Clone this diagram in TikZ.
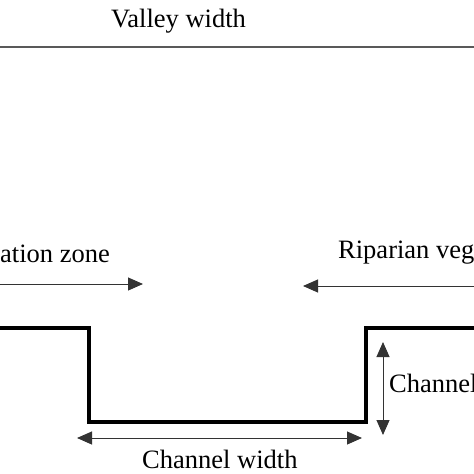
\documentclass[tikz,border=0pt]{standalone}
\usepackage{fontspec}
\setmainfont{Liberation Serif}
\usetikzlibrary{arrows.meta}
\begin{document}
\begin{tikzpicture}[x=1pt,y=-1pt,
    lbl/.style={font=\fontsize{26.5}{30}\selectfont, inner sep=0pt, anchor=base west},
    tip/.style={-{Triangle[length=15pt,width=13pt]}, line width=1pt, draw=black!80},
    dim/.style={{Triangle[length=15pt,width=13pt]}-{Triangle[length=15pt,width=13pt]}, line width=1pt, draw=black!80}]
    \useasboundingbox (0,0) rectangle (474,474);
    \clip (0,0) rectangle (474,474);
    % valley
    \node[lbl] (valley) at (111,27) {Valley width};
    \coordinate (vl) at (0,47); \coordinate (vr) at (474,47);
    \draw[line width=1.5pt, draw=black!65] (vl) -- (vr);
    % zones
    \node[lbl] (zoneL) at (0,262) {ation zone};
    \node[lbl] (zoneR) at (338,258) {Riparian veg};
    \coordinate (aL0) at (0,284); \coordinate (aL1) at (143,284);
    \coordinate (aR0) at (474,286); \coordinate (aR1) at (303,286);
    \draw[tip] (aL0) -- (aL1);
    \draw[tip] (aR0) -- (aR1);
    % channel
    \draw[line width=3.5pt, line join=miter] (0,328) -| (89,422) -| (366,328) -- (474,328);
    \coordinate (dT) at (383,342); \coordinate (dB) at (383,435);
    \draw[dim] (dT) -- (dB);
    \node[lbl] (depth) at (389,392) {Channel};
    \coordinate (wL) at (77,438); \coordinate (wR) at (362,438);
    \draw[dim] (wL) -- (wR);
    \node[lbl] (width) at (142,468) {Channel width};
\end{tikzpicture}
\end{document}
